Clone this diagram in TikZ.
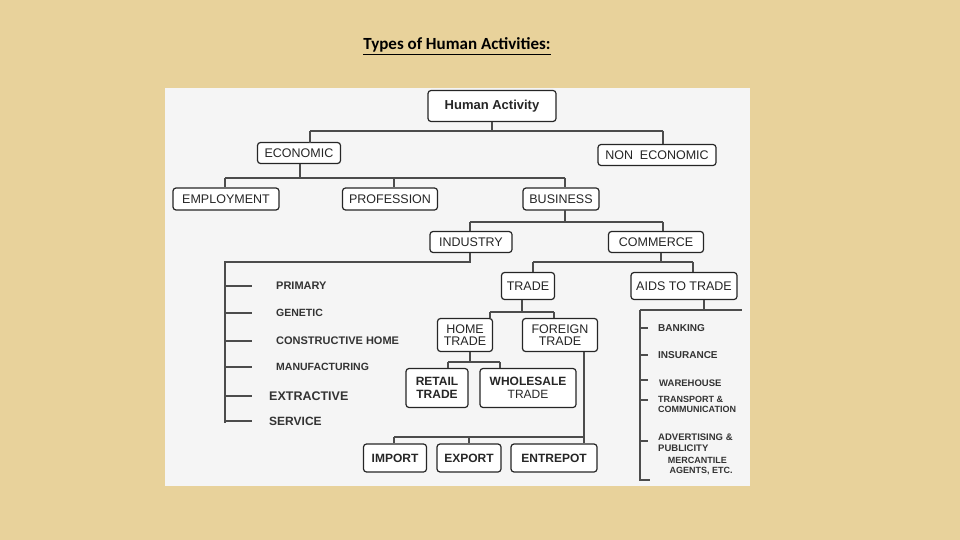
\documentclass[tikz,border=0pt]{standalone}
\usepackage{fontspec}
\setmainfont{Liberation Sans}
\newfontfamily\titlefont{Carlito}
\begin{document}
\begin{tikzpicture}[x=1pt,y=-1pt,
  bx/.style={draw=black!85,line width=1.2pt,rounded corners=3pt,fill=white,inner sep=0pt,font=\fontsize{12.5}{12}\selectfont,text=black!85,align=center},
  ln/.style={draw=black!70,line width=1.3pt},
  lab/.style={anchor=west,font=\bfseries\fontsize{11}{11}\selectfont,text=black!80,inner sep=0pt},
  sm/.style={anchor=west,font=\bfseries\fontsize{9}{10}\selectfont,text=black!80,inner sep=0pt,align=left}]
\fill[fill={rgb,255:red,232;green,210;blue,155}] (0,0) rectangle (960,540);
\useasboundingbox (0,0) rectangle (960,540);
\fill[white!96!black] (165,88) rectangle (750,486);
\node[font=\titlefont\bfseries\fontsize{17}{17}\selectfont] (title) at (457,46) {\underline{Types of Human Activities:}};
% boxes
\node[bx,minimum width=128pt,minimum height=31pt,font=\bfseries\fontsize{13}{13}\selectfont] (ha) at (492,106) {Human Activity};
\node[bx,minimum width=83pt,minimum height=21pt] (eco) at (299,153) {ECONOMIC};
\node[bx,minimum width=118pt,minimum height=21pt] (neco) at (657,155) {NON\ \ ECONOMIC};
\node[bx,minimum width=106pt,minimum height=22pt] (emp) at (226,199) {EMPLOYMENT};
\node[bx,minimum width=95pt,minimum height=22pt] (prof) at (390,199) {PROFESSION};
\node[bx,minimum width=76pt,minimum height=22pt] (bus) at (561,199) {BUSINESS};
\node[bx,minimum width=82pt,minimum height=21pt] (ind) at (471,242) {INDUSTRY};
\node[bx,minimum width=95pt,minimum height=21pt] (com) at (656,242) {COMMERCE};
\node[bx,minimum width=53pt,minimum height=27pt] (trade) at (528,286) {TRADE};
\node[bx,minimum width=106pt,minimum height=27pt] (aids) at (684,286) {AIDS TO TRADE};
\node[bx,minimum width=55pt,minimum height=33pt] (home) at (465,335) {HOME\\TRADE};
\node[bx,minimum width=75pt,minimum height=33pt] (for) at (560,335) {FOREIGN\\TRADE};
\node[bx,minimum width=62pt,minimum height=39pt,font=\bfseries\fontsize{12}{13}\selectfont] (ret) at (437,388) {RETAIL\\TRADE};
\node[bx,minimum width=96pt,minimum height=39pt,font=\fontsize{12}{13}\selectfont] (whole) at (528,388) {\textbf{WHOLESALE}\\TRADE};
\node[bx,minimum width=63pt,minimum height=28pt,font=\bfseries\fontsize{12}{12}\selectfont] (imp) at (395,458) {IMPORT};
\node[bx,minimum width=64pt,minimum height=28pt,font=\bfseries\fontsize{12}{12}\selectfont] (exp) at (469,458) {EXPORT};
\node[bx,minimum width=86pt,minimum height=28pt,font=\bfseries\fontsize{12}{12}\selectfont] (ent) at (554,458) {ENTREPOT};
% connectors
\coordinate (b1l) at (310,131); \coordinate (b1r) at (663,131);
\coordinate (b1m) at (492,131);
\draw[ln] (ha) -- (b1m);
\draw[ln] (b1l) -- (b1r);
\draw[ln] (b1l) -- (310,143);
\draw[ln] (b1r) -- (663,144);
\draw[ln] (300,164) -- (300,178);
\draw[ln] (225,178) -- (565,178);
\draw[ln] (225,178) -- (emp.north -| 225,0);
\draw[ln] (394,178) -- (prof.north -| 394,0);
\draw[ln] (565,178) -- (bus.north -| 565,0);
\draw[ln] (565,210) -- (565,222);
\draw[ln] (470,222) -- (663,222);
\draw[ln] (470,222) -- (ind.north -| 470,0);
\draw[ln] (663,222) -- (com.north -| 663,0);
% industry list
\draw[ln] (ind.south -| 470,0) -- (470,262) -- (225,262) -- (225,423);
\foreach \yy in {286,313,341,367,396,421}{\draw[ln] (225,\yy) -- (252,\yy);}
\node[lab] (pri) at (276,286) {PRIMARY};
\node[lab,font=\bfseries\fontsize{10.5}{11}\selectfont] (gen) at (276,313) {GENETIC};
\node[lab] (con) at (276,341) {CONSTRUCTIVE HOME};
\node[lab,font=\bfseries\fontsize{10.5}{11}\selectfont] (man) at (276,367) {MANUFACTURING};
\node[lab,font=\bfseries\fontsize{12.5}{12}\selectfont] (ext) at (269,396) {EXTRACTIVE};
\node[lab,font=\bfseries\fontsize{12}{12}\selectfont] (ser) at (269,421) {SERVICE};
% commerce
\draw[ln] (com.south -| 661,0) -- (661,262);
\draw[ln] (533,262) -- (693,262);
\draw[ln] (533,262) -- (trade.north -| 533,0);
\draw[ln] (693,262) -- (aids.north -| 693,0);
% trade
\draw[ln] (trade.south -| 522,0) -- (522,312);
\draw[ln] (490,312) -- (554,312);
\draw[ln] (490,312) -- (home.north -| 490,0);
\draw[ln] (554,312) -- (for.north -| 554,0);
\draw[ln] (home.south -| 470,0) -- (470,362);
\draw[ln] (448,362) -- (500,362);
\draw[ln] (448,362) -- (ret.north -| 448,0);
\draw[ln] (500,362) -- (whole.north -| 500,0);
\draw[ln] (for.south -| 584,0) -- (584,437);
\draw[ln] (394,437) -- (584,437);
\draw[ln] (394,437) -- (imp.north -| 394,0);
\draw[ln] (469,437) -- (exp.north -| 469,0);
\draw[ln] (584,437) -- (ent.north -| 584,0);
% aids
\draw[ln] (aids.south -| 704,0) -- (704,310);
\draw[ln] (640,310) -- (742,310);
\draw[ln] (640,310) -- (640,480) -- (650,480);
\foreach \yy in {328,355,380,400,441}{\draw[ln] (640,\yy) -- (648,\yy);}
\node[lab,font=\bfseries\fontsize{10}{10}\selectfont] (bank) at (658,328) {BANKING};
\node[lab,font=\bfseries\fontsize{10}{10}\selectfont] (ins) at (658,355) {INSURANCE};
\node[sm,font=\bfseries\fontsize{9.5}{10}\selectfont] (ware) at (659,383) {WAREHOUSE};
\node[sm] (trans) at (658,404) {TRANSPORT \&\\COMMUNICATION};
\node[sm,font=\bfseries\fontsize{9.5}{11}\selectfont] (adv) at (658,443) {ADVERTISING \&\\PUBLICITY};
\node[sm,align=center] (merc) at (662,466) {MERCANTILE\\\ \ \ AGENTS, ETC.};
\end{tikzpicture}
\end{document}
